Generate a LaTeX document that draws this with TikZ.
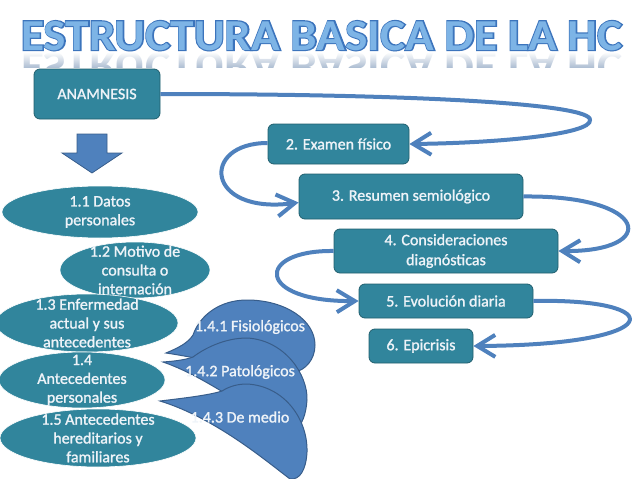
\documentclass[tikz,border=0pt]{standalone}
\usepackage{fontspec}
\setmainfont{Carlito}
\newfontfamily\borde[BoldFeatures={FakeBold=5}]{Carlito}
\newfontfamily\cuerpo[FakeBold=1.3]{Carlito}
\usepackage{xcolor}
\usetikzlibrary {arrows.meta, shapes.geometric}
\usetikzlibrary {fadings}
\definecolor{teal1}{HTML}{31859C}
\definecolor{teal2}{HTML}{215F6E}
\definecolor{blu}{HTML}{4F81BD}
\definecolor{bluedge}{HTML}{385D8A}
\definecolor{txt}{HTML}{EEF3F8}
\definecolor{ttlfill}{HTML}{7DB4E6}
\definecolor{ttledge}{HTML}{3C74BC}
\tikzfading[name=fadeup, top color=transparent!0, bottom color=transparent!100]
\tikzset{
  caja/.style={draw=teal2, fill=teal1, rounded corners=6pt, line width=0.8pt, text=txt,
    font=\cuerpo\fontsize{16}{20}\selectfont, align=center, inner sep=0pt},
  elipse/.style={ellipse, draw=white, fill=teal1, line width=0.6pt, inner sep=0pt},
  etexto/.style={text=txt, font=\cuerpo\fontsize{16}{18.8}\selectfont, align=center, inner sep=0pt},
  flecha/.style={draw=blu, line width=4pt, -{Straight Barb[length=18pt, width=22pt]}},
  gota/.style={fill=blu, draw=bluedge, line width=1pt},
  titulo/.style={inner sep=0pt, anchor=base west, font=\bfseries}
}
\newcommand{\titletxt}{\resizebox{601pt}{29pt}{ESTRUCTURA BASICA DE LA HC}}

\begin{document}
\begin{tikzpicture}[x=1pt, y=-1pt]
  \useasboundingbox (0,0) rectangle (638,479);
  \node[titulo, text=ttledge!60!gray, opacity=.5, yscale=-1, transform shape] (reflejo) at (21,52) {\titletxt};
  \fill[white, path fading=fadeup] (0,52) rectangle (638,68);
  \fill[white] (0,68) rectangle (638,90);
  \node[titulo, text=ttledge, font=\borde\bfseries] (borde) at (21,50) {\titletxt};
  \node[titulo, text=ttlfill] (titulo) at (21,50) {\titletxt};

  \node[caja, minimum width=126pt, minimum height=50pt] (anam) at (97,94) {ANAMNESIS};
  \node[caja, minimum width=141pt, minimum height=40pt] (examen) at (338.5,144) {2. Examen físico};
  \node[caja, minimum width=224pt, minimum height=45pt] (resumen) at (411,196.5) {3. Resumen semiológico};
  \node[caja, minimum width=224pt, minimum height=44pt] (consid) at (446,251) {4. Consideraciones\\diagnósticas};
  \node[caja, minimum width=174pt, minimum height=34pt] (evol) at (446,301) {5. Evolución diaria};
  \node[caja, minimum width=104pt, minimum height=34pt] (epic) at (421,346) {6. Epicrisis};

  \filldraw[fill=blu, draw=bluedge, line width=.8pt] (77,134) -- (107,134) -- (107,153) -- (122,153)
    -- (92,173) -- (62,153) -- (77,153) -- cycle;

  \draw[flecha] (anam.east) .. controls (420,94) and (592,104) .. (590,120)
    .. controls (592,134) and (500,143) .. (examen.east);
  \draw[flecha] ([yshift=1pt]examen.west) .. controls (200,143) and (205,215) .. ([yshift=-6pt]resumen.west);
  \draw[flecha] (resumen.east) .. controls (650,195) and (660,252) .. (consid.east);
  \draw[flecha] (consid.west) .. controls (255,250) and (255,302) .. (evol.west);
  \draw[flecha] (evol.east) .. controls (670,298) and (670,345) .. (epic.east);

  \node[elipse, minimum width=196pt, minimum height=52pt] (datos) at (100,212) {};
  \node[etexto] (datos-t) at (datos) {1.1 Datos\\personales};
  \node[elipse, minimum width=150pt, minimum height=56pt] (motivo) at (135,270) {};
  \node[etexto] (motivo-t) at (motivo) {1.2 Motivo de\\consulta o\\internación};
  \node[elipse, minimum width=182pt, minimum height=58pt] (enfer) at (87,323) {};
  \node[etexto] (enfer-t) at (enfer) {1.3 Enfermedad\\actual y sus\\antecedentes};
  \node[elipse, minimum width=166pt, minimum height=56pt] (antec) at (82,380) {};
  \node[etexto] (antec-t) at (antec) {1.4\\Antecedentes\\personales};
  \node[elipse, minimum width=196pt, minimum height=58pt] (hered) at (98,438) {};
  \node[etexto] (hered-t) at (hered) {1.5 Antecedentes\\hereditarios y\\familiares};

  \filldraw[gota] (166,353) .. controls (178,348) and (188,343) .. (193,335)
    .. controls (200,315) and (220,300) .. (247,300) .. controls (285,300) and (315,320) .. (315,345)
    .. controls (315,360) and (305,370) .. (295,372) .. controls (260,372) and (200,358) .. cycle;
  \filldraw[gota] (163,362) .. controls (178,361) and (188,359) .. (193,357)
    .. controls (205,348) and (225,338) .. (247,338) .. controls (285,340) and (308,375) .. (307,400)
    .. controls (306,415) and (302,425) .. (295,430) .. controls (265,425) and (215,380) .. cycle;
  \filldraw[gota] (160,401) .. controls (185,398) and (210,395) .. (222,391)
    .. controls (230,386) and (238,384) .. (247,384) .. controls (285,386) and (308,420) .. (307,452)
    .. controls (306,470) and (300,480) .. (290,479) .. controls (265,460) and (215,418) .. cycle;
  \node[etexto] (fisio) at (250,327) {1.4.1 Fisiológicos};
  \node[etexto] (pato) at (240,372) {1.4.2 Patológicos};
  \node[etexto] (medio) at (240,417) {1.4.3 De medio};
\end{tikzpicture}
\end{document}
